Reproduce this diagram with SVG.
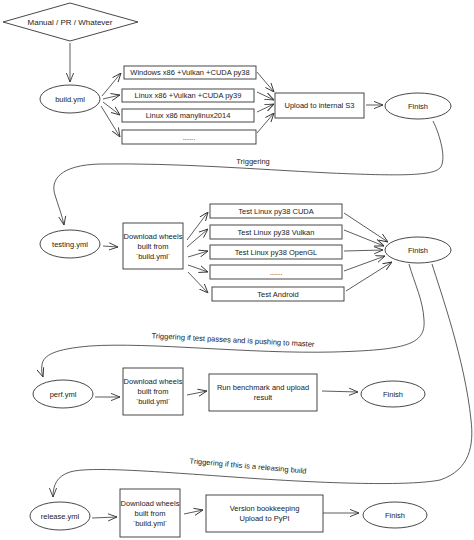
<svg xmlns="http://www.w3.org/2000/svg" width="474" height="540" viewBox="0 0 474 540">
<defs>
<marker id="a" viewBox="0 0 10 10" refX="10" refY="5" markerWidth="9" markerHeight="9" markerUnits="userSpaceOnUse" orient="auto"><path d="M0,1 L10,5 L0,9" fill="none" stroke="#333" stroke-width="1"/></marker>
<style>
.s{fill:#fff;stroke:#333;stroke-width:0.9}
.l{fill:none;stroke:#333;stroke-width:0.8;marker-end:url(#a)}
text{font-family:"Liberation Sans",Arial,sans-serif;font-size:7.5px;fill:#222;text-anchor:middle;dominant-baseline:central}
</style>
</defs>
<rect width="474" height="540" fill="#fff"/>
<g id="connectors">
<path class="l" d="M70,43 L70,82"/>
<path class="l" d="M102,96 L121,73"/>
<path class="l" d="M103,99 L120,95"/>
<path class="l" d="M103,102 L120,115"/>
<path class="l" d="M101,106 L120,137"/>
<path class="l" d="M257,72 L274,92"/>
<path class="l" d="M257,92 L274,100"/>
<path class="l" d="M257,112 L274,104"/>
<path class="l" d="M257,133 L274,113"/>
<path class="l" d="M366,105 L383,105"/>
<path class="l" d="M433,121 C440,135 447,160 440,168 C432,176 400,176 330,173 C250,169 180,163 100,164 C60,165 50,180 55,195 C58,205 62,215 64,225"/>
<text x="253" y="161">Triggering</text>
<path class="l" d="M103,246 L118,247"/>
<path class="l" d="M187,240 L208,212"/>
<path class="l" d="M187,247 L208,229"/>
<path class="l" d="M188,257 L208,251"/>
<path class="l" d="M188,265 L208,272"/>
<path class="l" d="M188,272 L208,293"/>
<path class="l" d="M344,213 L388,242"/>
<path class="l" d="M344,230 L384,246"/>
<path class="l" d="M344,251 L383,250"/>
<path class="l" d="M344,271 L385,256"/>
<path class="l" d="M346,291 L392,262"/>
<path class="l" d="M409,264 C415,285 423,300 424,320 C426,345 405,350 333,352 C250,354 150,342 90,346 C55,349 43,355 42,365 C41,370 42,374 43,377"/>
<text x="233" y="340" transform="rotate(3 233 340)">Triggering if test passes and is pushing to master</text>
<path class="l" d="M95,397 L120,397"/>
<path class="l" d="M187,395 L207,391"/>
<path class="l" d="M322,391 L358,392"/>
<path class="l" d="M432,264 C440,290 465,360 471,420 C474,445 470,470 440,480 C410,486 330,484 233,477 C160,472 90,466 70,472 C57,476 53,485 53,497"/>
<text x="248" y="466" transform="rotate(5 248 466)">Triggering if this is a releasing build</text>
<path class="l" d="M92,518 L117,517"/>
<path class="l" d="M184,514 L203,510"/>
<path class="l" d="M320,513 L359,513"/>
</g>
<g id="trigger"><path class="s" d="M3,22 L70,3 L138,22 L70,41 Z"/><text x="70" y="22" style="font-size:8px">Manual / PR / Whatever</text></g>
<g id="build"><ellipse class="s" cx="70" cy="99" rx="30" ry="14"/><text x="70" y="99">build.yml</text></g>
<g id="b1"><rect class="s" x="124" y="66" width="132" height="13"/><text x="190" y="72.5">Windows x86 +Vulkan +CUDA py38</text></g>
<g id="b2"><rect class="s" x="122" y="89" width="132" height="13"/><text x="188" y="95.5">Linux x86 +Vulkan +CUDA py39</text></g>
<g id="b3"><rect class="s" x="122" y="109" width="132" height="13"/><text x="188" y="115.5">Linux x86 manylinux2014</text></g>
<g id="b4"><rect class="s" x="122" y="130" width="134" height="14"/><text x="189" y="137">......</text></g>
<g id="upload"><rect class="s" x="275" y="93" width="89" height="25"/><text x="319.5" y="105.5">Upload to internal S3</text></g>
<g id="finish1"><ellipse class="s" cx="418" cy="106" rx="33" ry="13"/><text x="418" y="106">Finish</text></g>
<g id="testing"><ellipse class="s" cx="70" cy="244" rx="30" ry="14"/><text x="70" y="244">testing.yml</text></g>
<g id="dl1"><rect class="s" x="123" y="223" width="60" height="46"/><text x="153" y="236">Download wheels</text><text x="153" y="246">built from</text><text x="153" y="256">`build.yml`</text></g>
<g id="t1"><rect class="s" x="210" y="204" width="132" height="14"/><text x="276" y="211">Test Linux py38 CUDA</text></g>
<g id="t2"><rect class="s" x="210" y="225" width="132" height="14"/><text x="276" y="232">Test Linux py38 Vulkan</text></g>
<g id="t3"><rect class="s" x="210" y="245" width="132" height="14"/><text x="276" y="252">Test Linux py38 OpenGL</text></g>
<g id="t4"><rect class="s" x="210" y="265" width="132" height="14"/><text x="276" y="272">......</text></g>
<g id="t5"><rect class="s" x="212" y="287" width="132" height="14"/><text x="278" y="294">Test Android</text></g>
<g id="finish2"><ellipse class="s" cx="418" cy="250" rx="33" ry="13"/><text x="418" y="250">Finish</text></g>
<g id="perf"><ellipse class="s" cx="63" cy="394" rx="30" ry="14"/><text x="63" y="394">perf.yml</text></g>
<g id="dl2"><rect class="s" x="123" y="368" width="60" height="47"/><text x="153" y="381">Download wheels</text><text x="153" y="391">built from</text><text x="153" y="401">`build.yml`</text></g>
<g id="bench"><rect class="s" x="209" y="374" width="108" height="37"/><text x="263" y="387">Run benchmark and upload</text><text x="263" y="397">result</text></g>
<g id="finish3"><ellipse class="s" cx="393" cy="394" rx="32" ry="13"/><text x="393" y="394">Finish</text></g>
<g id="release"><ellipse class="s" cx="60" cy="516" rx="30" ry="14"/><text x="60" y="516">release.yml</text></g>
<g id="dl3"><rect class="s" x="120" y="489" width="60" height="48"/><text x="150" y="503">Download wheels</text><text x="150" y="513">built from</text><text x="150" y="523">`build.yml`</text></g>
<g id="version"><rect class="s" x="206" y="495" width="117" height="37"/><text x="264.5" y="508">Version bookkeeping</text><text x="264.5" y="518">Upload to PyPI</text></g>
<g id="finish4"><ellipse class="s" cx="395" cy="515" rx="32" ry="13"/><text x="395" y="515">Finish</text></g>
</svg>
